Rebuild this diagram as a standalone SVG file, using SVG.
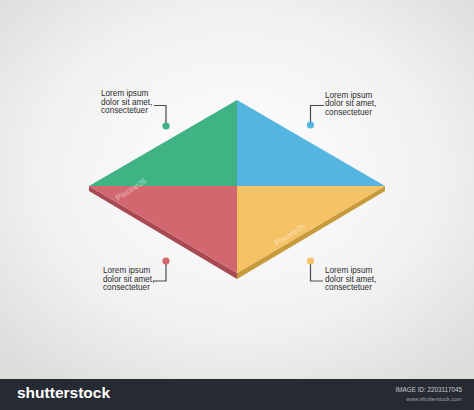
<svg xmlns="http://www.w3.org/2000/svg" width="474" height="410" viewBox="0 0 474 410">
<defs>
<radialGradient id="bg" cx="50%" cy="45%" r="70%">
<stop offset="0" stop-color="#ffffff"/>
<stop offset="0.6" stop-color="#f1f1f1"/>
<stop offset="1" stop-color="#dcdcdc"/>
</radialGradient>
<style>
.lbl{font-family:"Liberation Sans","DejaVu Sans",sans-serif;font-size:8.2px;fill:#2b2b2b}
.ln{fill:none;stroke:#4a4a4a;stroke-width:1.2}
.wm{font-family:"Liberation Sans",sans-serif;font-size:8px;fill:#ffffff;fill-opacity:0.55}
</style>
</defs>
<rect x="0" y="0" width="474" height="380" fill="url(#bg)"/>

<g id="diamond">
<polygon points="89,186 237,273 237,279 89,191" fill="#a94a52"/>
<polygon points="237,273 385,186 385,191 237,279" fill="#c79a3b"/>
<polygon points="237,100 89,186 237,186" fill="#3fb383"/>
<polygon points="237,100 385,186 237,186" fill="#55b5e1"/>
<polygon points="89,186 237,186 237,273" fill="#d3676f"/>
<polygon points="385,186 237,186 237,273" fill="#f6c266"/>
<text class="wm" transform="translate(118,201) rotate(-33)">Piscine26</text>
<text class="wm" transform="translate(277,246) rotate(-33)">Piscine26</text>
</g>

<g id="connectors">
<polyline class="ln" points="154,105.5 166,105.5 166,124"/>
<polyline class="ln" points="324,105.5 310.5,105.5 310.5,123"/>
<polyline class="ln" points="166,263 166,281 153,281"/>
<polyline class="ln" points="310.5,263 310.5,281 323,281"/>
</g>

<g id="label-tl">
<circle cx="166" cy="126" r="3.6" fill="#3fb383"/>
<text class="lbl" x="101" y="96">Lorem ipsum</text>
<text class="lbl" x="101" y="104.5">dolor sit amet,</text>
<text class="lbl" x="101" y="113">consectetuer</text>
</g>
<g id="label-tr">
<circle cx="310.5" cy="125" r="3.6" fill="#55b5e1"/>
<text class="lbl" x="325" y="97.5">Lorem ipsum</text>
<text class="lbl" x="325" y="106">dolor sit amet,</text>
<text class="lbl" x="325" y="114.5">consectetuer</text>
</g>
<g id="label-bl">
<circle cx="166" cy="261" r="3.6" fill="#d3676f"/>
<text class="lbl" x="103" y="273">Lorem ipsum</text>
<text class="lbl" x="103" y="281.5">dolor sit amet,</text>
<text class="lbl" x="103" y="290">consectetuer</text>
</g>
<g id="label-br">
<circle cx="310.5" cy="261" r="3.6" fill="#f6c266"/>
<text class="lbl" x="325" y="273">Lorem ipsum</text>
<text class="lbl" x="325" y="281.5">dolor sit amet,</text>
<text class="lbl" x="325" y="290">consectetuer</text>
</g>

<g id="footer">
<rect x="0" y="379" width="474" height="31" fill="#262a33"/>
<text x="17" y="398" font-family="Liberation Sans, Arial, sans-serif" font-size="15.5" font-weight="bold" fill="#ffffff">shutterstock</text>
<text x="462" y="392" text-anchor="end" font-family="Liberation Sans, Arial, sans-serif" font-size="6.3" fill="#c8cad0">IMAGE ID: 2203117045</text>
<text x="462" y="401" text-anchor="end" font-family="Liberation Sans, Arial, sans-serif" font-size="5.6" fill="#9ea2aa">www.shutterstock.com</text>
</g>
</svg>
